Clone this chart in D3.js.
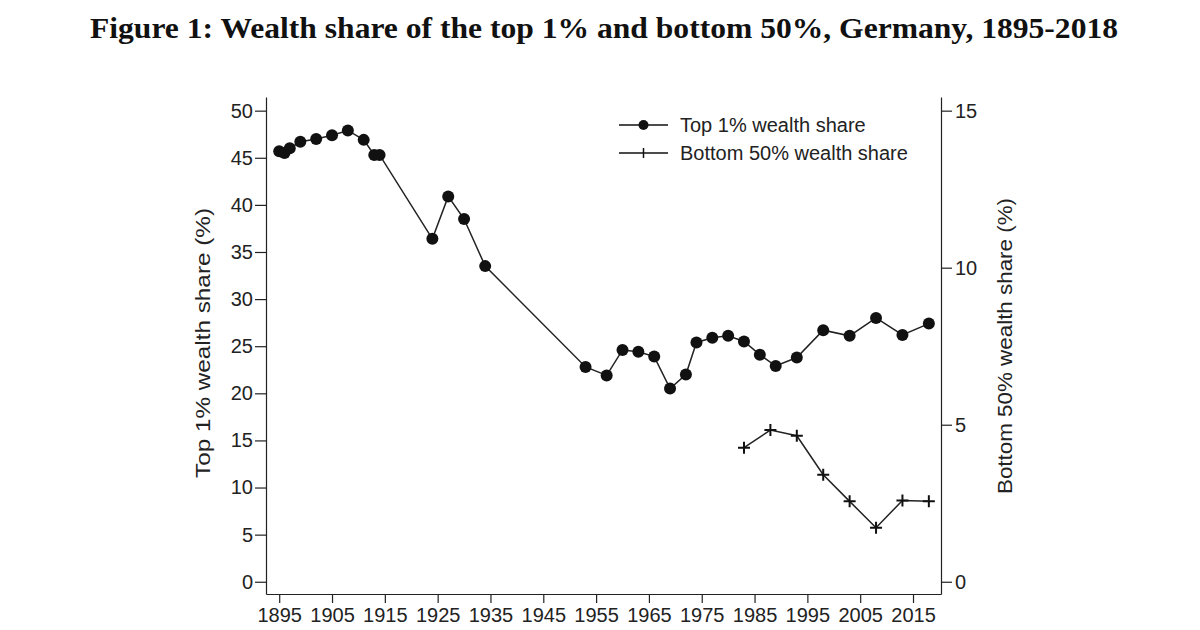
<!DOCTYPE html>
<html>
<head>
<meta charset="utf-8">
<style>
    body { margin: 0; background: white; }
    .axis text { font-family: "Liberation Sans", Arial, sans-serif; font-size: 20px; fill: #222; }
    .axis path, .axis line { stroke: #222; stroke-width: 1.2; }
    .serie { fill: none; stroke: #222; stroke-width: 1.5; }
    .label { font-family: "Liberation Sans", Arial, sans-serif; font-size: 20px; fill: #222; }
    .titre { font-family: "Liberation Serif", "DejaVu Serif", serif; font-weight: bold; font-size: 30px; fill: #111; }
</style>
</head>
<body>
<div id="plateau"></div>
<script src="https://cdn.jsdelivr.net/npm/d3@7"></script>
<script>

//////////////////// donnees ////////////////////
let top1_years = [1895, 1896, 1897, 1899, 1902, 1905, 1908, 1911, 1913, 1914,
    1924, 1927, 1930, 1934, 1953, 1957, 1960, 1963, 1966, 1969, 1972, 1974,
    1977, 1980, 1983, 1986, 1989, 1993, 1998, 2003, 2008, 2013, 2018];
let top1_values = [45.7, 45.5, 46.0, 46.7, 47.0, 47.4, 47.9, 46.9, 45.3, 45.3,
    36.4, 40.9, 38.5, 33.5, 22.8, 21.9, 24.6, 24.4, 23.9, 20.5, 22.0, 25.4,
    25.9, 26.1, 25.5, 24.1, 22.9, 23.8, 26.7, 26.1, 28.0, 26.2, 27.4];

let bottom50_years = [1983, 1988, 1993, 1998, 2003, 2008, 2013, 2018];
let bottom50_values = [4.27, 4.83, 4.65, 3.41, 2.56, 1.72, 2.59, 2.56];

let x_ticks = [1895, 1905, 1915, 1925, 1935, 1945, 1955, 1965, 1975, 1985, 1995, 2005, 2015];
let left_ticks = [0, 5, 10, 15, 20, 25, 30, 35, 40, 45, 50];
let right_ticks = [0, 5, 10, 15];

let titre = "Figure 1: Wealth share of the top 1% and bottom 50%, Germany, 1895-2018";
let legende = ["Top 1% wealth share", "Bottom 50% wealth share"];

//////////////////// position ////////////////////
let W = 1200;
let H = 630;
let X0 = 266, X1 = 941;
let Y0 = 594, Y1 = 97;

let svg = d3.select('#plateau').append('svg')
    .attr('width', W)
    .attr('height', H);

let x = d3.scaleLinear().domain([1892.5, 2020.3]).range([X0, X1]);
let yL = d3.scaleLinear().domain([-1.3, 51.45]).range([Y0, Y1]);
let yR = d3.scaleLinear().domain([-1.3 * 0.3, 51.45 * 0.3]).range([Y0, Y1]);

// titre
svg.append('text')
    .classed('titre', true)
    .attr('x', 604)
    .attr('y', 38)
    .attr('text-anchor', 'middle')
    .attr('textLength', 1028)
    .attr('lengthAdjust', 'spacingAndGlyphs')
    .text(titre);

// axes
svg.append('g')
    .classed('axis', true)
    .attr('transform', `translate(0, ${Y0})`)
    .call(d3.axisBottom(x).tickValues(x_ticks).tickFormat(d3.format('d')).tickSize(9).tickSizeOuter(0).tickPadding(5));

svg.append('g')
    .classed('axis', true)
    .attr('transform', `translate(${X0}, 0)`)
    .call(d3.axisLeft(yL).tickValues(left_ticks).tickSize(11).tickSizeOuter(0).tickPadding(2));

svg.append('g')
    .classed('axis', true)
    .attr('transform', `translate(${X1}, 0)`)
    .call(d3.axisRight(yR).tickValues(right_ticks).tickSize(11).tickSizeOuter(0).tickPadding(3));

// titres des axes
svg.append('text')
    .classed('label', true)
    .attr('transform', `translate(210, 343) rotate(-90)`)
    .attr('text-anchor', 'middle')
    .attr('textLength', 270)
    .attr('lengthAdjust', 'spacingAndGlyphs')
    .text('Top 1% wealth share (%)');

svg.append('text')
    .classed('label', true)
    .attr('transform', `translate(1012, 346) rotate(-90)`)
    .attr('text-anchor', 'middle')
    .attr('textLength', 296)
    .attr('lengthAdjust', 'spacingAndGlyphs')
    .text('Bottom 50% wealth share (%)');

// series
let top1 = top1_years.map((d, i) => [d, top1_values[i]]);
let bottom50 = bottom50_years.map((d, i) => [d, bottom50_values[i]]);

svg.append('path')
    .classed('serie', true)
    .attr('d', d3.line().x(d => x(d[0])).y(d => yL(d[1]))(top1));

svg.append('g')
    .selectAll('circle')
    .data(top1)
    .join('circle')
    .attr('cx', d => x(d[0]))
    .attr('cy', d => yL(d[1]))
    .attr('r', 6)
    .attr('fill', '#111');

svg.append('path')
    .classed('serie', true)
    .attr('d', d3.line().x(d => x(d[0])).y(d => yR(d[1]))(bottom50));

svg.append('g')
    .selectAll('path')
    .data(bottom50)
    .join('path')
    .attr('d', d => `M ${x(d[0]) - 6} ${yR(d[1])} h 12 M ${x(d[0])} ${yR(d[1]) - 6} v 12`)
    .attr('stroke', '#111')
    .attr('stroke-width', 2);

// legende
let leg = svg.append('g').attr('transform', 'translate(619, 125)');
legende.forEach((txt, idx) => {
    let ligne = leg.append('g').attr('transform', `translate(0, ${idx * 28})`);
    ligne.append('path')
        .attr('d', 'M 0 0 L 49 0')
        .attr('stroke', '#111')
        .attr('stroke-width', 1.5);
    if (idx == 0) {
        ligne.append('circle').attr('cx', 24.5).attr('cy', 0).attr('r', 5).attr('fill', '#111');
    } else {
        ligne.append('path').attr('d', 'M 24.5 -5 L 24.5 5').attr('stroke', '#111').attr('stroke-width', 1.5);
    }
    ligne.append('text')
        .classed('label', true)
        .attr('x', 61)
        .attr('y', 7)
        .text(txt);
});

</script>
</body>
</html>
